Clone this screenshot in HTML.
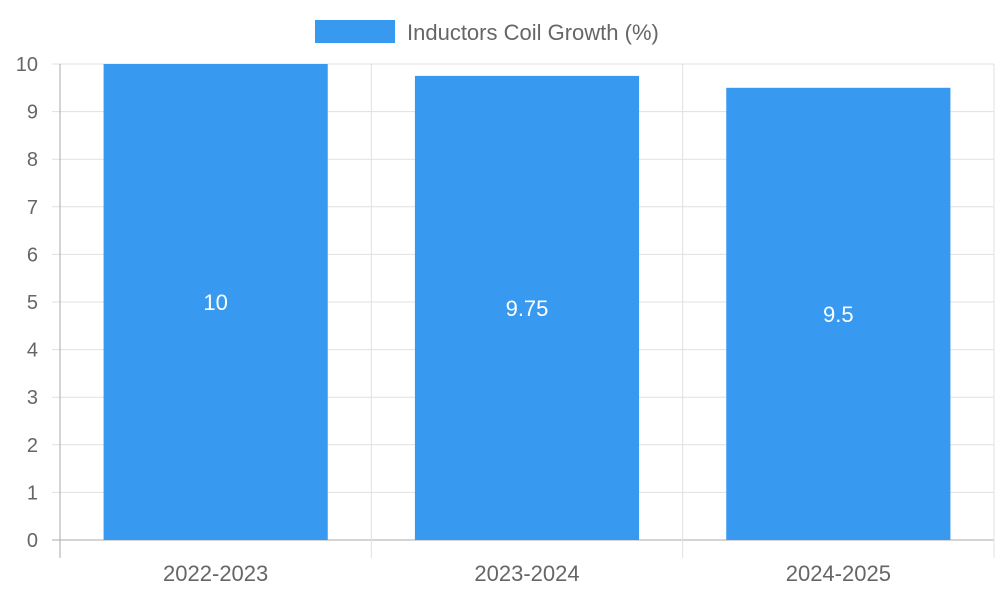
<!DOCTYPE html>
<html><head><meta charset="utf-8"><style>
body{margin:0;background:#fff;}
svg{display:block;font-family:"Liberation Sans",sans-serif;}
</style></head><body>
<svg width="1000" height="600">
<g id="grid"></g>
<g id="bars"></g>
<g id="labels"></g>
<g>
<rect x="315" y="20" width="80" height="23" fill="#3799ef"/>
<text x="407" y="40" font-size="22" fill="#666">Inductors Coil Growth (%)</text>
</g>
</svg>
<script>
const categories=["2022-2023","2023-2024","2024-2025"];
const values=[10,9.75,9.5];
const yTicks=[0,1,2,3,4,5,6,7,8,9,10];
const L=60,R=994,T=64,B=540,yMax=10;
const ns="http://www.w3.org/2000/svg";
const cw=(R-L)/categories.length;
const y=v=>B-(v/yMax)*(B-T);
const xc=i=>L+cw*(i+0.5);
function mk(tag,attrs,parent,txt){const e=document.createElementNS(ns,tag);for(const k in attrs)e.setAttribute(k,attrs[k]);if(txt!==undefined)e.textContent=txt;document.getElementById(parent).appendChild(e);return e;}
yTicks.forEach(t=>{
  const g=mk("line",{x1:L-8,x2:R,y1:y(t),y2:y(t),stroke:t===0?"#aaa":"#e0e0e0","stroke-width":1},"grid");
  
  
  const tx=mk("text",{x:38,y:y(t)+7,"text-anchor":"end","font-size":20,fill:"#666"},"labels",t);
  
  
});
for(let i=0;i<=categories.length;i++){
  const x=L+cw*i;
  const g=mk("line",{x1:x,x2:x,y1:T,y2:B+18,stroke:i===0?"#aaa":"#e0e0e0","stroke-width":1},"grid");
  
  
}
categories.forEach((c,i)=>{
  const bw=cw*0.72;
  const r=mk("rect",{x:xc(i)-bw/2,y:y(values[i]),width:bw,height:B-y(values[i]),fill:"#3799ef"},"bars");
  
  
  const v=mk("text",{x:xc(i),y:(y(values[i])+B)/2+8,"text-anchor":"middle","font-size":22,fill:"#fff"},"bars",values[i]);
  
  
  const t=mk("text",{x:xc(i),y:581,"text-anchor":"middle","font-size":22,fill:"#666"},"labels",c);
  
  
});
</script>
</body></html>
